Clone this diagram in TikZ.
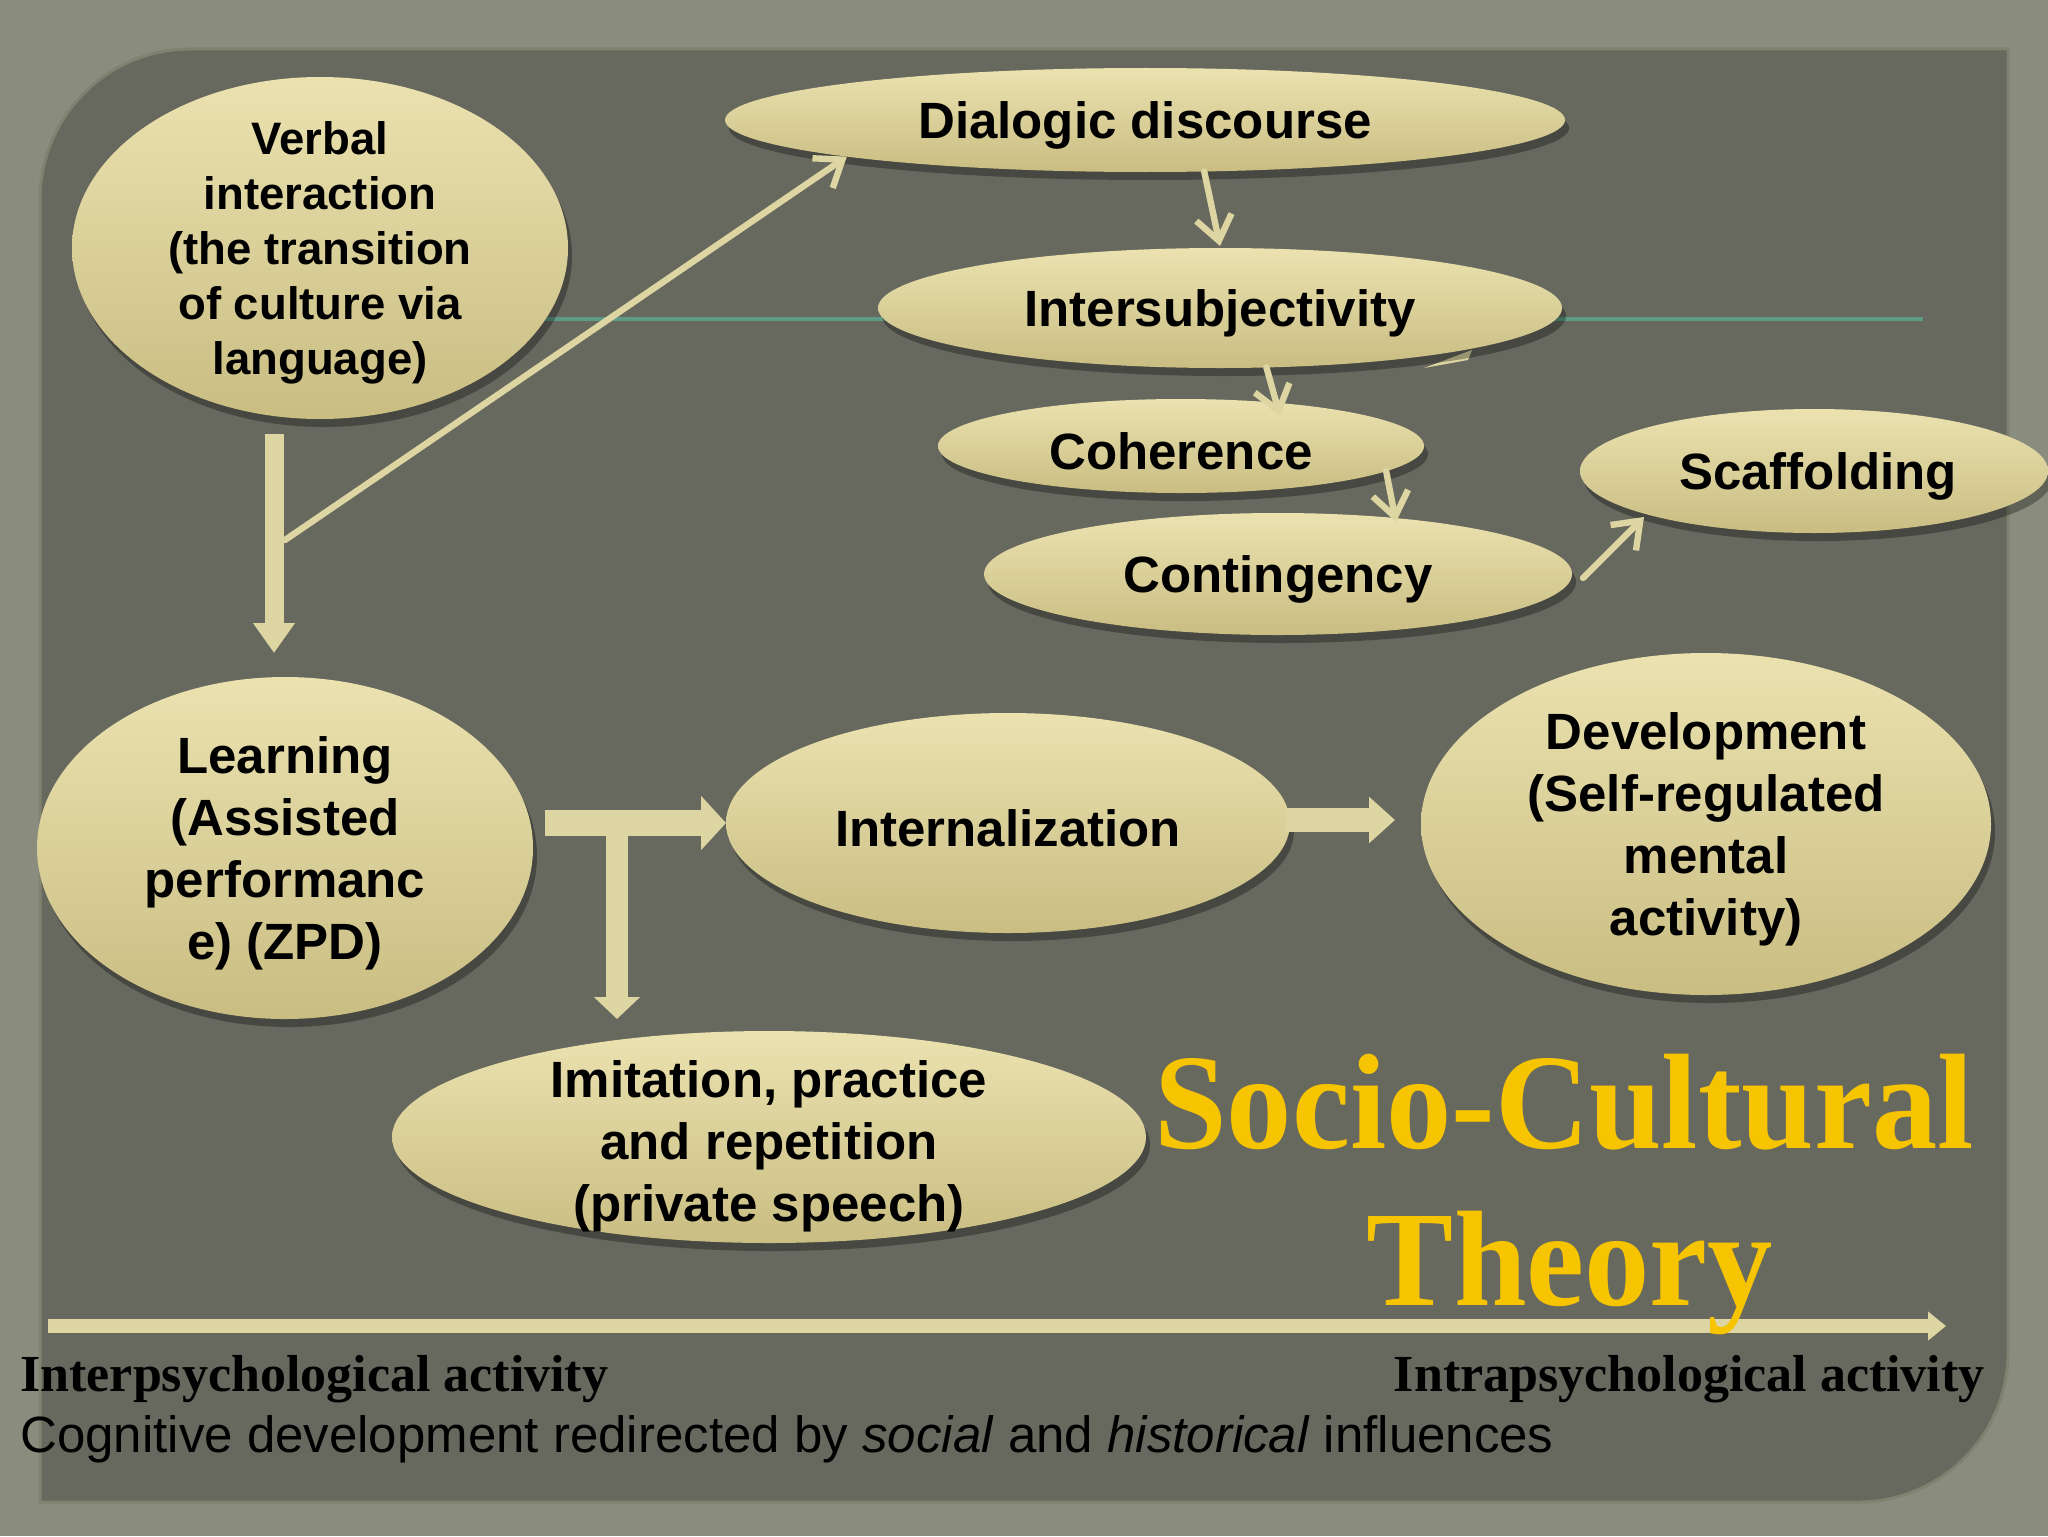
\documentclass[tikz,border=0pt]{standalone}
\usepackage{fontspec}
\setmainfont{Liberation Sans}
\newfontfamily\serifbf{Liberation Serif}
\newfontfamily\titlefont[FakeStretch=0.96]{Liberation Serif}
\usetikzlibrary{shapes.geometric,arrows.meta,calc,shadows}
\definecolor{outerbg}{HTML}{8A8C7D}
\definecolor{panelc}{HTML}{67685E}
\definecolor{rimc}{HTML}{80816F}
\definecolor{elltop}{HTML}{EBE2B0}
\definecolor{ellbot}{HTML}{C9BD82}
\definecolor{arrowc}{HTML}{DDD5A2}
\definecolor{tealc}{HTML}{5E9A86}
\definecolor{goldc}{HTML}{F6C400}
\begin{document}
\begin{tikzpicture}[x=0.5pt,y=-0.5pt,
  bubble/.style={ellipse, inner sep=0pt, outer sep=0pt, draw=none,
    top color=elltop, bottom color=ellbot,
    drop shadow={shadow xshift=2pt, shadow yshift=-4pt, opacity=0.3, fill=black}},
  txt/.style={inner sep=0pt, align=center, text=black, yshift=-2.5pt,
    font=\fontsize{25.5}{31}\selectfont\bfseries},
  thinarrow/.style={draw=arrowc, line width=3.2pt, line cap=round,
    -{Straight Barb[length=12pt,width=18pt]}},
  blockarr/.style n args={3}{draw=arrowc, line width=#1,
    -{Triangle[length=#2,width=#3]}},
  title/.style={inner sep=0pt, anchor=base, text=goldc,
    font=\titlefont\bfseries\fontsize{68}{80}\selectfont},
  bottomlbl/.style={inner sep=0pt, text=black,
    font=\serifbf\bfseries\fontsize{26}{30}\selectfont}
]
% background and panel
\fill[outerbg] (0,0) rectangle (2048,1536);
\useasboundingbox (0,0) rectangle (2048,1536);
\filldraw[fill=panelc, draw=rimc, line width=1.5pt]
  (40,1502) -- (40,200) .. controls (40,117) and (107,49) .. (190,49)
  -- (2008,49) -- (2008,1352) .. controls (2008,1435) and (1941,1502) .. (1858,1502) -- cycle;

% teal guide line (behind the bubbles)
\coordinate (tealL) at (545,319);
\coordinate (tealR) at (1923,319);
\draw[tealc, line width=2pt] (tealL) -- (tealR);

% small hidden arrow fragment behind Intersubjectivity
\coordinate (slA) at (1424,368);
\coordinate (slB) at (1472,350);
\coordinate (slC) at (1468,360);
\fill[arrowc] (slA) -- (slB) -- (slC) -- cycle;

% bubbles
\node[bubble, minimum width=248pt, minimum height=171pt] (verbal) at (320,248) {};
\node[txt, font=\fontsize{22.75}{27.5}\selectfont\bfseries] (verbal-t) at (verbal.center)
  {Verbal\\interaction\\(the transition\\of culture via\\language)};

\node[bubble, minimum width=420pt, minimum height=52pt] (dialogic) at (1145,120) {};
\node[txt] (dialogic-t) at (dialogic.center) {Dialogic discourse};

\node[bubble, minimum width=342pt, minimum height=60pt] (inter) at (1220,308) {};
\node[txt] (inter-t) at (inter.center) {Intersubjectivity};

\node[bubble, minimum width=243pt, minimum height=47pt] (coher) at (1181,446) {};
\node[txt] (coher-t) at (coher.center) {Coherence};

\node[bubble, minimum width=294pt, minimum height=61pt] (conting) at (1278,574) {};
\node[txt] (conting-t) at (conting.center) {Contingency};

\node[bubble, minimum width=234pt, minimum height=62pt] (scaff) at (1814,471) {};
\node[txt] (scaff-t) at ($(scaff.center)+(4,0)$) {Scaffolding};

\node[bubble, minimum width=248pt, minimum height=171pt] (learning) at (285,848) {};
\node[txt] (learning-t) at (learning.center) {Learning\\(Assisted\\performanc\\e) (ZPD)};

\node[bubble, minimum width=282pt, minimum height=110pt] (internal) at (1008,823) {};
\node[txt] (internal-t) at (internal.center) {Internalization};

\node[bubble, minimum width=285pt, minimum height=171pt] (develop) at (1706,824) {};
\node[txt] (develop-t) at (develop.center) {Development\\(Self-regulated\\mental\\activity)};

\node[bubble, minimum width=377pt, minimum height=106pt] (imitation) at (769,1137) {};
\node[txt] (imitation-t) at ($(imitation.center)+(0,4)$) {Imitation, practice\\and repetition\\(private speech)};

% block arrows
\coordinate (fS) at ($(verbal.center)+(-46,186)$);
\coordinate (fE) at ($(learning.center)+(-11,-195)$);
\draw[blockarr={9.5pt}{15pt}{20pt}] (fS) -- (fE);

\coordinate (gS) at ($(learning.east)+(12,-25)$);
\draw[blockarr={13pt}{12.5pt}{26.5pt}] (gS) -- (internal.west);

\coordinate (hS) at ($(learning.east)+(84,-12)$);
\coordinate (hE) at ($(imitation.north)+(-152,-12)$);
\draw[blockarr={11pt}{11pt}{22.5pt}] (hS) -- (hE);

\coordinate (iS) at ($(internal.east)+(-4,-3)$);
\coordinate (iE) at ($(develop.west)+(-26,-4)$);
\draw[blockarr={12pt}{13pt}{22.5pt}] (iS) -- (iE);

% line arrows
\coordinate (branch) at ($(verbal.center)+(-35,292)$);
\draw[thinarrow] (branch) -- (dialogic.187);
\draw[thinarrow] (dialogic.-41) -- ($(inter.north)+(0,-2)$);
\draw[thinarrow] (inter.-52) -- ($(coher.center)+(99,-30)$);
\draw[thinarrow] (coher.-7) -- ($(conting.center)+(118,-52)$);
\draw[thinarrow] ($(conting.east)+(11,4)$) -- ($(scaff.center)+(-170,46)$);

% long axis arrow
\coordinate (jS) at (48,1326);
\coordinate (jE) at (1946,1326);
\draw[blockarr={7pt}{9pt}{14pt}] (jS) -- (jE);

% title
\node[title] (title1) at (1564,1148) {Socio-Cultural};
\node[title] (title2) at (1570,1305) {Theory};

% bottom labels
\node[bottomlbl, anchor=base west] (interlbl) at (20,1391) {Interpsychological activity};
\node[bottomlbl, anchor=base east] (intralbl) at (1985,1391) {Intrapsychological activity};
\node[inner sep=0pt, anchor=base west, font=\fontsize{25.5}{30}\selectfont] (caption) at (20,1452)
  {Cognitive development redirected by \textit{social} and \textit{historical} influences};
\end{tikzpicture}
\end{document}
